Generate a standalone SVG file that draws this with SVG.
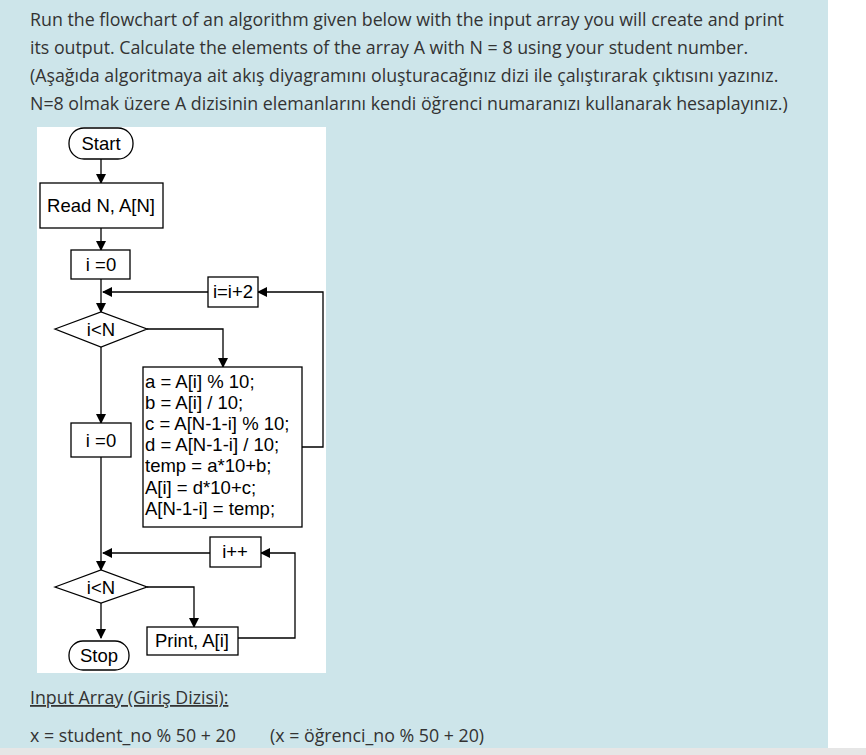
<svg xmlns="http://www.w3.org/2000/svg" width="866" height="755" viewBox="0 0 866 755">
<style>
.t{font-family:"Open Sans",sans-serif;font-size:17.8px;fill:#333}
.f{font-family:"Liberation Sans",Arial,sans-serif;font-size:18.5px;fill:#000}
.s{fill:#fff;stroke:#000;stroke-width:1.3}
.c{fill:none;stroke:#000;stroke-width:1.3}
</style>
<defs><marker id="a" markerWidth="10" markerHeight="10" refX="9" refY="5" orient="auto" markerUnits="userSpaceOnUse"><path d="M0,0L10,5L0,10z"/></marker></defs>
<rect width="866" height="755" fill="#fff"/>
<rect x="0" y="0" width="828" height="748" fill="#cde5ea"/>
<rect x="0" y="748" width="866" height="7" fill="#e6e6e6"/>
<text class="t" x="30" y="26">Run the flowchart of an algorithm given below with the input array you will create and print</text>
<text class="t" x="30" y="54">its output. Calculate the elements of the array A with N = 8 using your student number.</text>
<text class="t" x="30" y="82">(Aşağıda algoritmaya ait akış diyagramını oluşturacağınız dizi ile çalıştırarak çıktısını yazınız.</text>
<text class="t" x="30" y="110">N=8 olmak üzere A dizisinin elemanlarını kendi öğrenci numaranızı kullanarak hesaplayınız.)</text>
<rect x="37" y="127" width="289" height="546" fill="#fff"/>
<g id="connectors">
<path class="c" d="M101,159V183" marker-end="url(#a)"/>
<path class="c" d="M101,228V250" marker-end="url(#a)"/>
<path class="c" d="M101,279V312" marker-end="url(#a)"/>
<path class="c" d="M208,292H103" marker-end="url(#a)"/>
<path class="c" d="M302,447H323V292H258" marker-end="url(#a)"/>
<path class="c" d="M147,329H223V367" marker-end="url(#a)"/>
<path class="c" d="M101,347V423" marker-end="url(#a)"/>
<path class="c" d="M101,457V570" marker-end="url(#a)"/>
<path class="c" d="M210,553H103" marker-end="url(#a)"/>
<path class="c" d="M238,638H295V553H261" marker-end="url(#a)"/>
<path class="c" d="M147,587H194V627" marker-end="url(#a)"/>
<path class="c" d="M101,603V638" marker-end="url(#a)"/>
</g>
<g id="start"><rect class="s" x="69" y="128" width="64" height="31" rx="15"/><text class="f" x="101" y="150" text-anchor="middle">Start</text></g>
<g id="read"><rect class="s" x="40" y="183" width="123" height="45"/><text class="f" x="101" y="212" text-anchor="middle">Read N, A[N]</text></g>
<g id="init1"><rect class="s" x="71" y="250" width="59" height="29"/><text class="f" x="101" y="271" text-anchor="middle">i =0</text></g>
<g id="inc2"><rect class="s" x="208" y="277" width="50" height="30"/><text class="f" x="233" y="298" text-anchor="middle">i=i+2</text></g>
<g id="cond1"><path class="s" d="M55,329L101,312L147,329L101,347z"/><text class="f" x="101" y="336" text-anchor="middle">i&lt;N</text></g>
<g id="body"><rect class="s" x="143" y="367" width="159" height="160"/>
<text class="f" x="145" y="388">a = A[i] % 10;</text>
<text class="f" x="145" y="409">b = A[i] / 10;</text>
<text class="f" x="145" y="430">c = A[N-1-i] % 10;</text>
<text class="f" x="145" y="451">d = A[N-1-i] / 10;</text>
<text class="f" x="145" y="472">temp = a*10+b;</text>
<text class="f" x="145" y="494">A[i] = d*10+c;</text>
<text class="f" x="145" y="515">A[N-1-i] = temp;</text></g>
<g id="init2"><rect class="s" x="71" y="423" width="60" height="34"/><text class="f" x="101" y="447" text-anchor="middle">i =0</text></g>
<g id="inc1"><rect class="s" x="210" y="537" width="51" height="30"/><text class="f" x="235" y="558" text-anchor="middle">i++</text></g>
<g id="cond2"><path class="s" d="M55,587L101,570L147,587L101,603z"/><text class="f" x="101" y="594" text-anchor="middle">i&lt;N</text></g>
<g id="print"><rect class="s" x="147" y="627" width="91" height="28"/><text class="f" x="192" y="647" text-anchor="middle">Print, A[i]</text></g>
<g id="stop"><rect class="s" x="69" y="641" width="60" height="29" rx="14"/><text class="f" x="99" y="662" text-anchor="middle">Stop</text></g>
<text class="t" x="30" y="704" text-decoration="underline">Input Array (Giriş Dizisi):</text>
<text class="t" x="30" y="742">x = student_no % 50 + 20</text>
<text class="t" x="270" y="742">(x = öğrenci_no % 50 + 20)</text>
</svg>
